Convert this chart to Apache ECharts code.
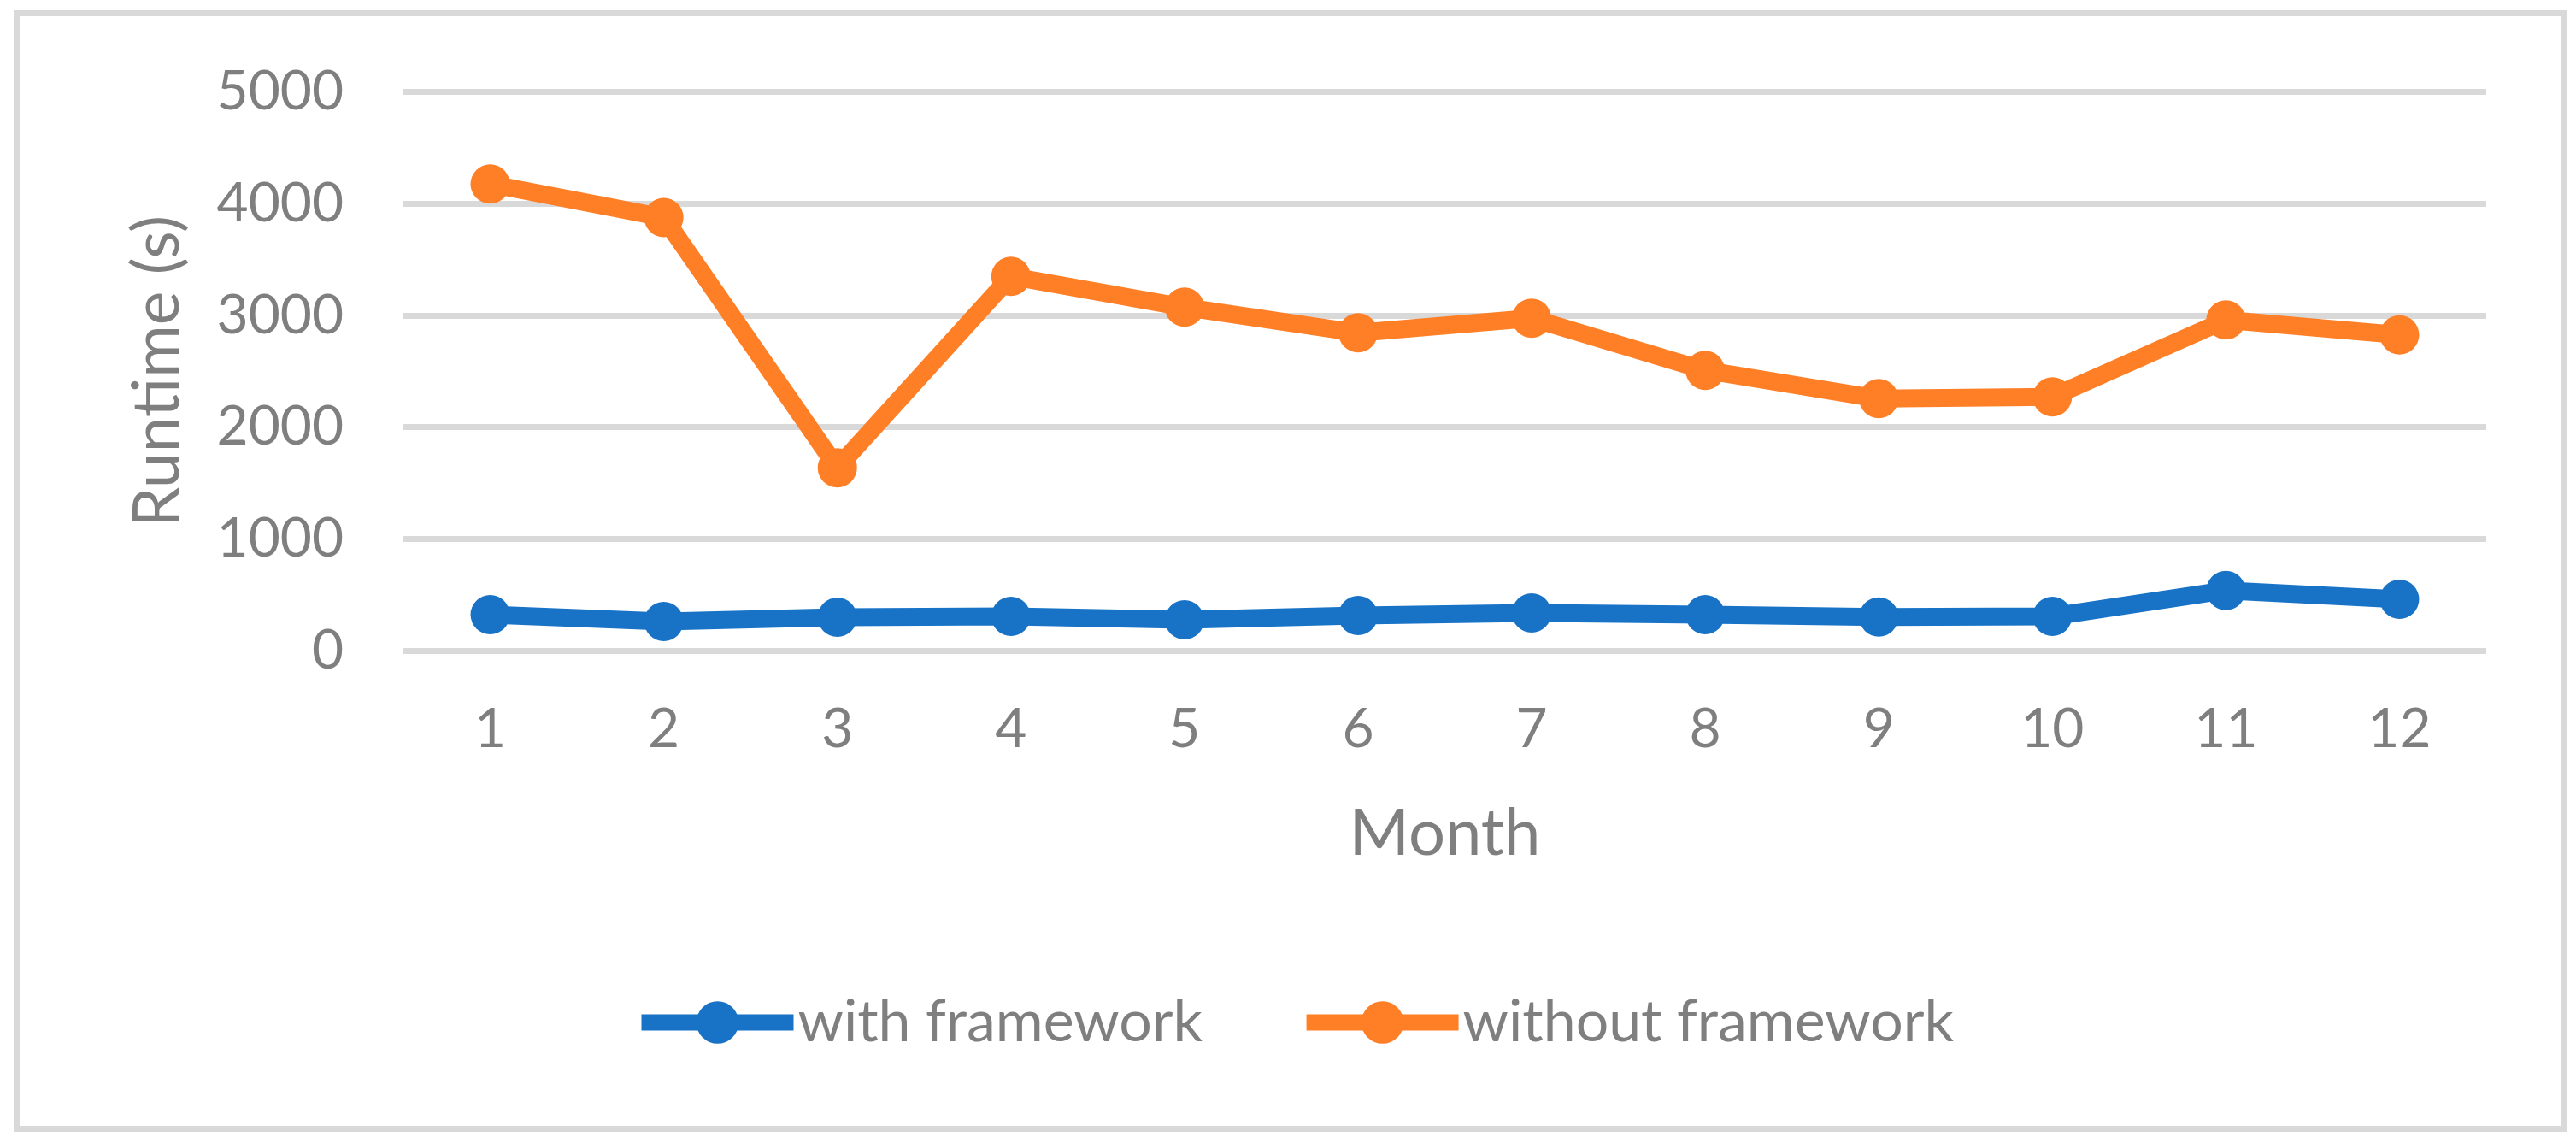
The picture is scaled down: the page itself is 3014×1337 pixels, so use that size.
<!DOCTYPE html>
<html>
<head>
<meta charset="utf-8">
<script src="https://cdn.jsdelivr.net/npm/echarts@6/dist/echarts.min.js"></script>
<style>
html,body{margin:0;padding:0;background:#fff;}
#chart{width:3014px;height:1337px;}
</style>
</head>
<body>
<div id="chart"></div>
<script>
const months = ['1','2','3','4','5','6','7','8','9','10','11','12'];
const withFramework = [321, 260, 298, 306, 275, 313, 336, 321, 301, 306, 538, 459];
const withoutFramework = [4176, 3876, 1636, 3349, 3073, 2844, 2974, 2508, 2255, 2271, 2959, 2825];
const seriesNames = ['with framework', 'without framework'];
const yMin = 0, yMax = 5000, yStep = 1000;

const gray = '#7f7f7f';
const font = 'Lato';
const chart = echarts.init(document.getElementById('chart'), null, {renderer: 'canvas'});
chart.setOption({
  animation: false,
  backgroundColor: '#ffffff',
  graphic: [{
    type: 'rect', silent: true,
    shape: {x: 19.5, y: 15.5, width: 2980, height: 1305},
    style: {fill: 'none', stroke: '#d9d9d9', lineWidth: 7}
  }],
  grid: {left: 472, top: 107.5, width: 2437, height: 653.5, containLabel: false},
  xAxis: {
    type: 'category',
    data: months,
    boundaryGap: true,
    name: 'Month',
    nameLocation: 'middle',
    nameGap: 176,
    nameTextStyle: {color: gray, fontFamily: font, fontSize: 76},
    axisLine: {show: false},
    axisTick: {show: false},
    axisLabel: {color: gray, fontFamily: font, fontSize: 64, margin: 60}
  },
  yAxis: {
    type: 'value',
    min: yMin, max: yMax, interval: yStep,
    name: 'Runtime (s)',
    nameLocation: 'middle',
    nameRotate: 90,
    nameGap: 250,
    nameTextStyle: {color: gray, fontFamily: font, fontSize: 75},
    axisLine: {show: false},
    axisTick: {show: false},
    axisLabel: {color: gray, fontFamily: font, fontSize: 64, margin: 70, formatter: v => String(v)},
    splitLine: {lineStyle: {color: '#d9d9d9', width: 7}}
  },
  legend: {
    left: 736, top: 1157,
    itemWidth: 178, itemHeight: 62, itemGap: 112,
    textStyle: {color: gray, fontFamily: font, fontSize: 68},
    lineStyle: {width: 19},
    data: seriesNames
  },
  series: [
    {
      name: seriesNames[0], type: 'line', data: withFramework,
      symbol: 'circle', symbolSize: 46, showAllSymbol: true,
      color: '#1873c7',
      lineStyle: {width: 21, color: '#1873c7'},
      itemStyle: {color: '#1873c7'}
    },
    {
      name: seriesNames[1], type: 'line', data: withoutFramework,
      symbol: 'circle', symbolSize: 46, showAllSymbol: true,
      color: '#ff7f27',
      lineStyle: {width: 21, color: '#ff7f27'},
      itemStyle: {color: '#ff7f27'}
    }
  ]
});
</script>
</body>
</html>
